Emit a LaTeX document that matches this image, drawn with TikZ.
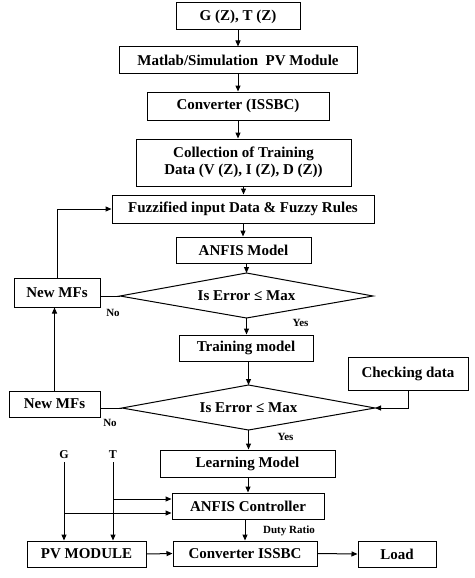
\documentclass[tikz,border=0pt]{standalone}
\usepackage{fontspec}
\setmainfont{Liberation Serif}
\usetikzlibrary{arrows.meta,calc}
\begin{document}
\begin{tikzpicture}[x=1pt,y=-1pt,
  box/.style={draw,line width=1pt,rectangle,inner sep=0pt,align=center,font=\fontsize{15}{17}\selectfont\bfseries},
  dtext/.style={inner sep=0pt,font=\fontsize{15}{17}\selectfont\bfseries},
  lab/.style={inner sep=0pt,font=\fontsize{11}{13}\selectfont\bfseries},
  inlab/.style={inner sep=3pt,font=\fontsize{12}{14}\selectfont\bfseries},
  con/.style={line width=1pt},
  arr/.style={line width=1pt,-{Triangle[length=6pt,width=5pt]}}]
\useasboundingbox (0,0) rectangle (474,578);
\node[box,minimum width=124,minimum height=27] (b1) at (238,16.5) {G (Z), T (Z)};
\node[box,minimum width=238,minimum height=26] (b2) at (238,60) {Matlab/Simulation\ \ PV Module};
\node[box,minimum width=182,minimum height=28] (b3) at (238,106) {Converter (ISSBC)};
\node[box,minimum width=215,minimum height=47] (b4) at (243.5,162.5) {Collection of Training\\Data (V (Z), I (Z), D (Z))};
\node[box,minimum width=262,minimum height=28] (b5) at (243,209) {Fuzzified input Data \& Fuzzy Rules};
\node[box,minimum width=135,minimum height=26] (b6) at (243.5,250) {ANFIS Model};
% decision 1
\node[dtext] (d1) at (246.5,296) {Is Error ≤ Max};
\coordinate (d1n) at (246.5,273);
\coordinate (d1s) at (246.5,318);
\coordinate (d1w) at (120,296);
\coordinate (d1e) at (373,296);
\draw[con,line join=miter] (d1n) -- (d1e) -- (d1s) -- (d1w) -- cycle;
\node[box,minimum width=86,minimum height=29] (nm1) at (57,292.5) {New MFs};
\node[box,minimum width=134,minimum height=26] (tr) at (246,348) {Training model};
\node[box,minimum width=120,minimum height=33] (chk) at (408,373.5) {Checking data};
% decision 2
\node[dtext] (d2) at (248.5,408) {Is Error ≤ Max};
\coordinate (d2n) at (248.5,385);
\coordinate (d2s) at (248.5,430);
\coordinate (d2w) at (122,408);
\coordinate (d2e) at (375,408);
\draw[con,line join=miter] (d2n) -- (d2e) -- (d2s) -- (d2w) -- cycle;
\node[box,minimum width=91,minimum height=26] (nm2) at (54.5,404) {New MFs};
\node[box,minimum width=175,minimum height=27] (lm) at (247.5,463.5) {Learning Model};
\node[box,minimum width=152,minimum height=26] (ctrl) at (248,506) {ANFIS Controller};
\node[box,minimum width=144,minimum height=25] (conv) at (245,553.5) {Converter ISSBC};
\node[box,minimum width=119,minimum height=26] (pv) at (86.5,554) {PV MODULE};
\node[box,minimum width=78,minimum height=26] (load) at (397,554) {Load};
\node[inlab] (G) at (64,455) {G};
\node[inlab] (T) at (113,455) {T};
\node[lab] (no1) at (113,313) {No};
\node[lab] (yes1) at (300.5,323) {Yes};
\node[lab] (no2) at (110,423) {No};
\node[lab] (yes2) at (285.5,437) {Yes};
\node[lab] (duty) at (289,530.5) {Duty Ratio};
\coordinate (cl) at ([yshift=-7pt]ctrl.west);
\coordinate (cu) at ([yshift=7pt]ctrl.west);
% main chain
\draw[arr] (b1.south) -- (b1.south |- b2.north);
\draw[arr] (b2.south) -- (b2.south |- b3.north);
\draw[arr] (b3.south) -- (b3.south |- b4.north);
\draw[arr] (b4.south) -- (b4.south |- b5.north);
\draw[arr] (b5.south) -- (b5.south |- b6.north);
\draw[arr] (b6.south -| d1n) -- (d1n);
\draw[arr] (d1s) -- (d1s |- tr.north);
\draw[arr] (tr.south -| d2n) -- (d2n);
\draw[arr] (d2s) -- (d2s |- lm.north);
\draw[arr] (lm.south -| ctrl.north) -- (ctrl.north);
\draw[arr] (ctrl.south -| conv.north) -- (conv.north);
% feedback loops
\draw[con] (d1w) -- (d1w -| nm1.east);
\draw[arr] (nm1.north) |- (b5.west);
\draw[con] (d2w) -- (d2w -| nm2.east);
\draw[arr] (nm2.north) -- (nm2.north |- nm1.south);
\draw[arr] (chk.south) |- (d2e);
% inputs
\draw[arr] (G.south) -- (G.south |- pv.north);
\draw[arr] (T.south) -- (T.south |- pv.north);
\draw[arr] (G.south |- cl) -- (cl);
\draw[arr] (T.south |- cu) -- (cu);
\draw[arr] (pv.east) -- (conv.west);
\draw[arr] (conv.east) -- (load.west);
\end{tikzpicture}
\end{document}
